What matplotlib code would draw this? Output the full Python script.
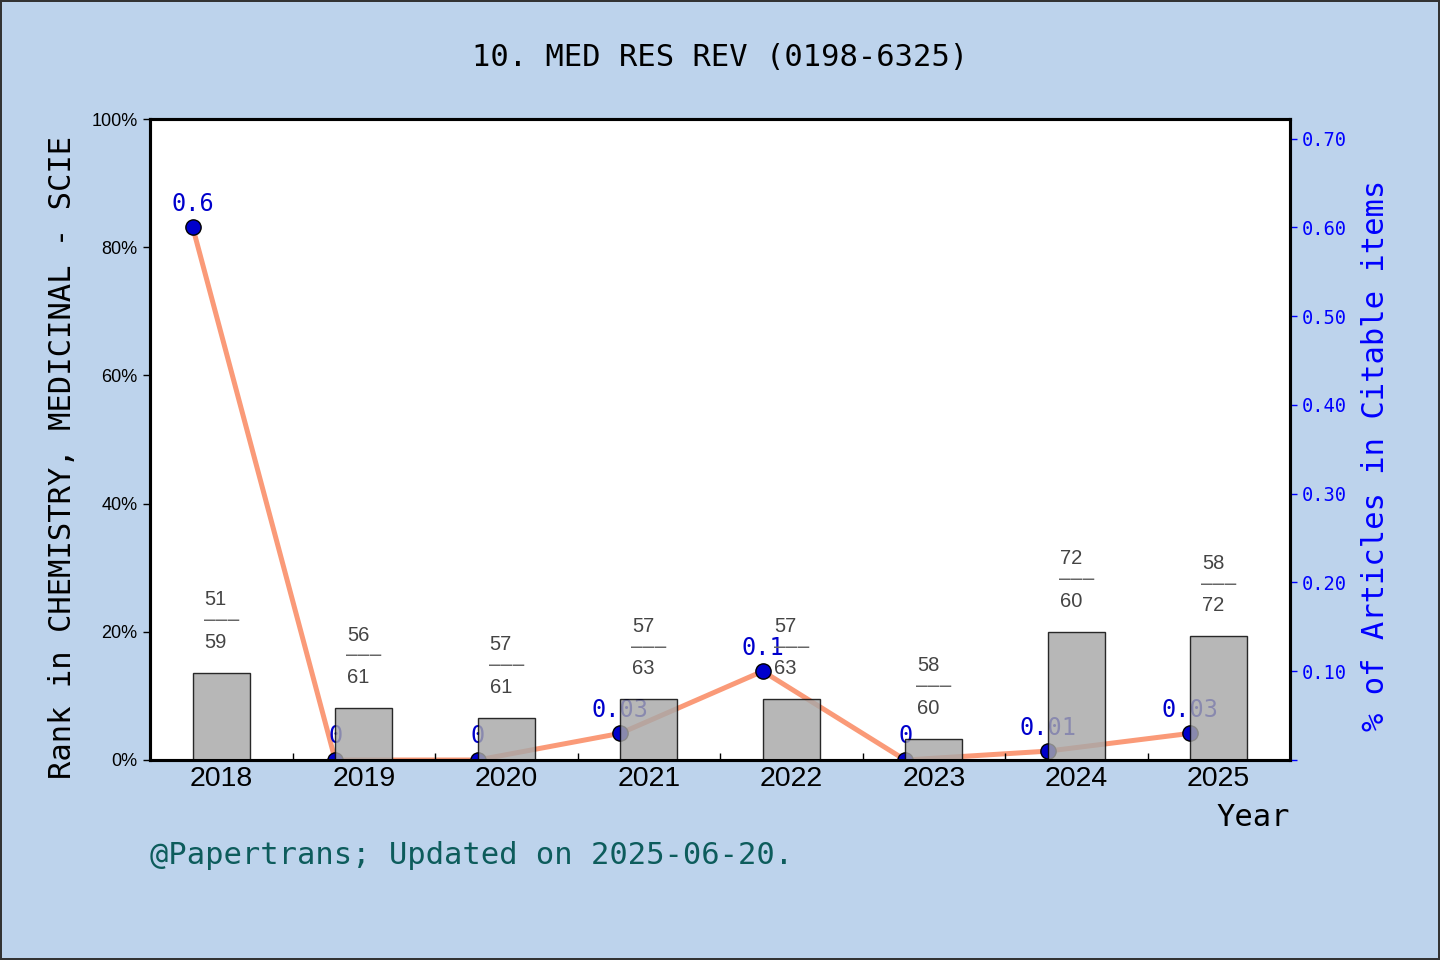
import matplotlib
matplotlib.use("Agg")
import matplotlib.pyplot as plt
from matplotlib.ticker import FixedLocator, FuncFormatter

# data
years = ['2018', '2019', '2020', '2021', '2022', '2023', '2024', '2025']
rank = [51, 56, 57, 57, 57, 58, 72, 58]
total = [59, 61, 61, 63, 63, 60, 60, 72]
rank_pct = [13.6, 8.1, 6.6, 9.5, 9.5, 3.3, 20.0, 19.3]
articles = [0.6, 0, 0, 0.03, 0.1, 0, 0.01, 0.03]

BG = '#bdd3ec'
MONO = 'DejaVu Sans Mono'
SANS = 'Liberation Sans'

fig = plt.figure(figsize=(14.4, 9.6), dpi=100)
fig.patch.set_facecolor(BG)
fig.patch.set_edgecolor('#333333')
fig.patch.set_linewidth(1.5)

ax = fig.add_axes([150/1440, 1-760/960, 1140/1440, 641/960])
ax2 = ax.twinx()
# bars sit above the line, so the rank axis goes on top
ax.set_zorder(ax2.get_zorder() + 1)
ax.patch.set_visible(False)
ax2.patch.set_visible(True)
ax2.patch.set_facecolor('white')

x = list(range(len(years)))
xl = [i - 0.2 for i in x]

# line on right axis
ax2.plot(xl, articles, color='#fa9a78', lw=3.6, zorder=2)
ax2.plot(xl, articles, 'o', ms=11, mfc='#0000cc', mec='black', mew=1, zorder=3)
for xi, v in zip(xl, articles):
    ax2.annotate(f"{v:g}", (xi, v), xytext=(0, 17), textcoords='offset points',
                 ha='center', va='center', color='#0000cc', fontsize=17, family=MONO)
ax2.set_ylim(0, 0.722)
ax2.yaxis.set_major_locator(FixedLocator([0, 0.1, 0.2, 0.3, 0.4, 0.5, 0.6, 0.7]))
ax2.yaxis.set_major_formatter(FuncFormatter(lambda v, p: '' if v == 0 else f"{v:.2f}"))
ax2.tick_params(axis='y', colors='#0000ff', labelsize=13.5, length=5, width=1, direction='out')
for t in ax2.get_yticklabels():
    t.set_family(MONO)

# bars on left axis
ax.bar(x, rank_pct, width=0.4, color='#a8a8a8', alpha=0.82, edgecolor='black', lw=1, zorder=2)
for xi, h, r, t in zip(x, rank_pct, rank, total):
    ax.annotate(str(t), (xi, h), xytext=(-4, 22), textcoords='offset points',
                ha='center', va='center', color='#444444', fontsize=14.5, family=SANS)
    ax.annotate('–––', (xi, h), xytext=(0, 37.5), textcoords='offset points',
                ha='center', va='center', color='#666666', fontsize=14, family=MONO)
    ax.annotate(str(r), (xi, h), xytext=(-4, 52.5), textcoords='offset points',
                ha='center', va='center', color='#444444', fontsize=14.5, family=SANS)

ax.set_xlim(-0.5, 7.5)
ax.set_ylim(0, 100)
ax.set_yticks([0, 20, 40, 60, 80, 100])
ax.set_yticklabels(['0%', '20%', '40%', '60%', '80%', '100%'], family=SANS, fontsize=13)
ax.tick_params(axis='y', length=5, width=1, direction='out', pad=4)

ax.set_xticks([i + 0.5 for i in range(-1, 8)])
ax.set_xticklabels([])
ax.tick_params(axis='x', which='major', direction='in', length=5, width=1)
ax.set_xticks(x, minor=True)
ax.set_xticklabels(years, minor=True, family=SANS, fontsize=20.5)
ax.tick_params(axis='x', which='minor', length=0, pad=4)
ax2.tick_params(axis='x', length=0)

for a in (ax, ax2):
    for s in a.spines.values():
        s.set_linewidth(2.2)
        s.set_color('black')

fig.text(0.5, 1-57/960, '10. MED RES REV (0198-6325)', ha='center', va='center',
         fontsize=22, family=MONO)
fig.text(63/1440, 1-457/960, 'Rank in CHEMISTRY, MEDICINAL - SCIE', rotation=90,
         ha='center', va='center', fontsize=22, family=MONO)
fig.text(1375/1440, 1-455/960, '% of Articles in Citable items', rotation=90,
         ha='center', va='center', fontsize=22, family=MONO, color='#0000ff')
fig.text(1290/1440, 1-817/960, 'Year', ha='right', va='center', fontsize=22, family=MONO)
fig.text(150/1440, 1-855/960, '@Papertrans; Updated on 2025-06-20.', ha='left', va='center',
         fontsize=22, family=MONO, color='#0d5c5c')

fig.savefig('out.png', dpi=100, facecolor=fig.get_facecolor(), edgecolor=fig.get_edgecolor())
